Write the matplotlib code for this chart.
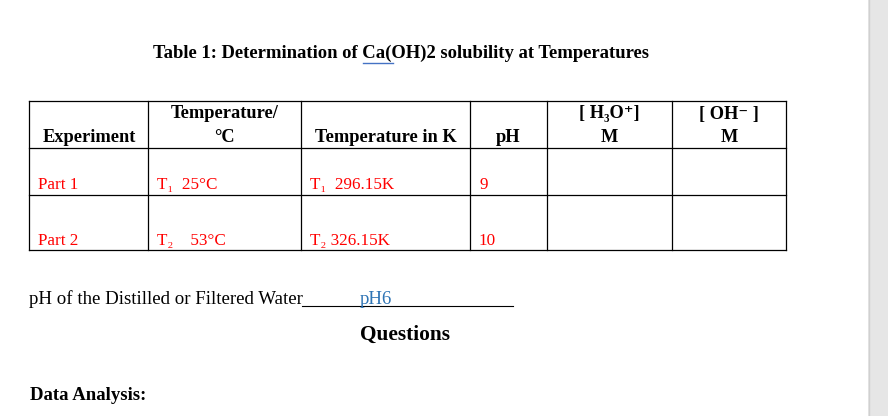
import matplotlib.pyplot as plt
from matplotlib.patches import Rectangle

plt.rcParams['font.family'] = ['Liberation Serif', 'DejaVu Serif']

col_edges = [29, 148, 301, 470, 547, 672, 786]
row_edges = [101, 148, 195, 250]
header_top = ["", "Temperature/", "", "", "[ H\u2083O\u207a]", "[ OH\u207b ]"]
header_bot = ["Experiment", "\u00b0C", "Temperature in K", "pH", "M", "M"]
rows = [["Part 1", "T\u2081  25\u00b0C", "T\u2081  296.15K", "9"],
        ["Part 2", "T\u2082    53\u00b0C", "T\u2082 326.15K", "10"]]

fig = plt.figure(figsize=(8.88, 4.16), dpi=100)
ax = fig.add_axes([0, 0, 1, 1])
ax.set_xlim(0, 888)
ax.set_ylim(416, 0)
ax.axis('off')

# right grey strip
ax.add_patch(Rectangle((868, 0), 20, 416, color='#e6e6e6', lw=0))
ax.plot([869, 869], [0, 416], color='#d0d0d0', lw=1)

ax.text(401, 53, "Table 1: Determination of Ca(OH)2 solubility at Temperatures",
        ha='center', va='center', fontsize=13.4, fontweight='bold')
ax.plot([363, 393], [63, 63], color='#4472c4', lw=1)

# grid
for x in col_edges:
    ax.plot([x, x], [row_edges[0], row_edges[-1]], color='black', lw=0.9)
for y in row_edges:
    ax.plot([col_edges[0], col_edges[-1]], [y, y], color='black', lw=0.9)

for i, (t, b) in enumerate(zip(header_top, header_bot)):
    cx = (col_edges[i] + col_edges[i + 1]) / 2
    if i == 0:
        ax.text(43, 137, b, ha='left', va='center', fontsize=13.2, fontweight='bold')
        continue
    if t:
        ax.text(cx, 114, t, ha='center', va='center', fontsize=13.2, fontweight='bold')
    ax.text(cx, 137, b, ha='center', va='center', fontsize=13.2, fontweight='bold')

for r, row in enumerate(rows):
    y = 185 + r * 56
    for i, v in enumerate(row):
        x = col_edges[i] + 9
        ax.text(x, y, v, ha='left', va='center', fontsize=12.3, color='red')

ax.text(29, 299, "pH of the Distilled or Filtered Water", ha='left', va='center', fontsize=13.6)
ax.plot([302, 513], [306, 306], color='black', lw=0.8)
ax.text(360, 299, "pH6", ha='left', va='center', fontsize=13.6, color='#2e74b5')
ax.text(405, 335, "Questions", ha='center', va='center', fontsize=15.4, fontweight='bold')
ax.text(30, 395, "Data Analysis:", ha='left', va='center', fontsize=13.5, fontweight='bold')

fig.savefig('out.png', dpi=100)
